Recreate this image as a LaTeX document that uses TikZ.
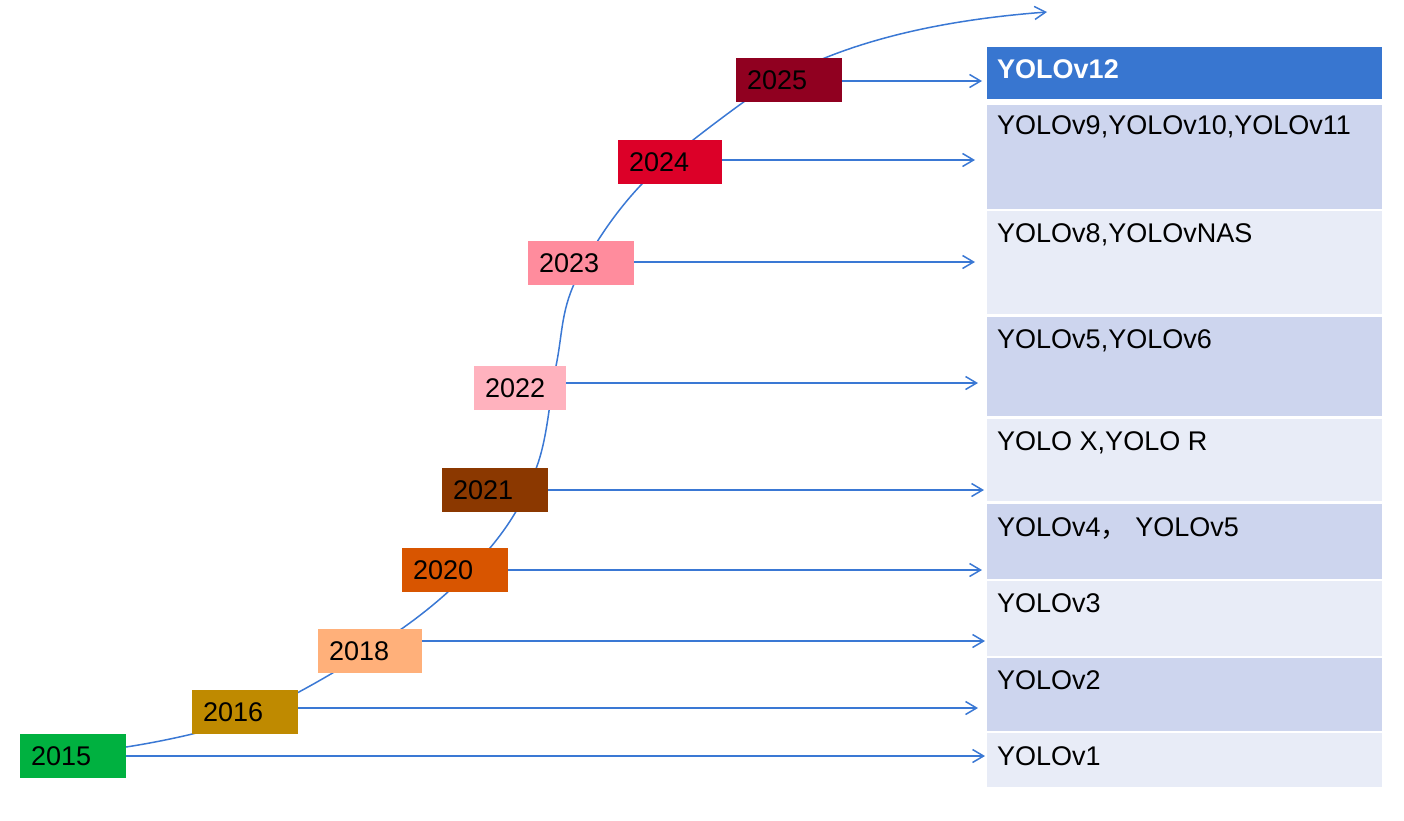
\documentclass[tikz,border=0pt]{standalone}
\usepackage{fontspec}
\setmainfont{Liberation Sans}
\newfontfamily\cjk{Noto Sans CJK SC}
\usetikzlibrary{arrows.meta,calc}
\definecolor{lineblue}{HTML}{3A78D4}
\definecolor{headblue}{HTML}{3876D0}
\definecolor{rowdark}{HTML}{CDD5EE}
\definecolor{rowlight}{HTML}{E8ECF7}
\definecolor{c2015}{HTML}{00B140}
\definecolor{c2016}{HTML}{BF8A00}
\definecolor{c2018}{HTML}{FFB07A}
\definecolor{c2020}{HTML}{D85500}
\definecolor{c2021}{HTML}{8B3800}
\definecolor{c2022}{HTML}{FFB2BE}
\definecolor{c2023}{HTML}{FF8C9D}
\definecolor{c2024}{HTML}{DC0028}
\definecolor{c2025}{HTML}{900020}
\tikzset{
  yearbox/.style={fill=#1, anchor=north west, inner xsep=11pt, inner ysep=0pt,
    text width=84pt, minimum height=44pt, align=left,
    font=\fontsize{27}{32}\selectfont},
  rowbox/.style={fill=#1, anchor=north west, inner sep=0pt, minimum width=395pt},
  rowtext/.style={anchor=base west, inner sep=0pt, font=\fontsize{27}{32}\selectfont},
  conn/.style={draw=lineblue, line width=1.5pt, -{Straight Barb[length=11pt,width=13pt,line width=1.5pt]}},
}
\begin{document}
\begin{tikzpicture}[x=1pt,y=-1pt]
\useasboundingbox (0,0) rectangle (1404,820);
% timeline curve
\coordinate (cend) at (1047,12);
\draw[conn] plot[smooth, tension=0.6] coordinates {(126,747) (250,716) (400,630) (490,548) (537,466) (556,366) (575,282) (640,186) (745,101)}
  .. controls (814,51.5) and (914,22) .. (cend);
% table rows
\node[rowbox=headblue, minimum height=52pt] (r12) at (987,47) {};
\node[rowbox=rowdark, minimum height=104pt] (r9) at (987,105) {};
\node[rowbox=rowlight, minimum height=103pt] (r8) at (987,211) {};
\node[rowbox=rowdark, minimum height=99pt] (r5) at (987,317) {};
\node[rowbox=rowlight, minimum height=82pt] (rx) at (987,419) {};
\node[rowbox=rowdark, minimum height=75pt] (r4) at (987,504) {};
\node[rowbox=rowlight, minimum height=75pt] (r3) at (987,581) {};
\node[rowbox=rowdark, minimum height=73pt] (r2) at (987,658) {};
\node[rowbox=rowlight, minimum height=54pt] (r1) at (987,733) {};
\node[rowtext, text=white, font=\fontsize{27}{32}\selectfont\bfseries] (t12) at ($(r12.north west)+(10,31)$) {YOLOv12};
\node[rowtext] (t9) at ($(r9.north west)+(10,29)$) {YOLOv9,YOLOv10,YOLOv11};
\node[rowtext] (t8) at ($(r8.north west)+(10,31)$) {YOLOv8,YOLOvNAS};
\node[rowtext] (t5) at ($(r5.north west)+(10,31)$) {YOLOv5,YOLOv6};
\node[rowtext] (tx) at ($(rx.north west)+(10,31)$) {YOLO X,YOLO R};
\node[rowtext] (t4) at ($(r4.north west)+(10,32)$) {YOLOv4{\cjk ，}\ YOLOv5};
\node[rowtext] (t3) at ($(r3.north west)+(10,31)$) {YOLOv3};
\node[rowtext] (t2) at ($(r2.north west)+(10,31)$) {YOLOv2};
\node[rowtext] (t1) at ($(r1.north west)+(10,32)$) {YOLOv1};
% year boxes
\node[yearbox=c2015] (y2015) at (20,734) {2015};
\node[yearbox=c2016] (y2016) at (192,690) {2016};
\node[yearbox=c2018, text width=82pt] (y2018) at (318,629) {2018};
\node[yearbox=c2020] (y2020) at (402,548) {2020};
\node[yearbox=c2021] (y2021) at (442,468) {2021};
\node[yearbox=c2022, text width=70pt] (y2022) at (474,366) {2022};
\node[yearbox=c2023] (y2023) at (528,241) {2023};
\node[yearbox=c2024, text width=82pt] (y2024) at (618,140) {2024};
\node[yearbox=c2025] (y2025) at (736,58) {2025};
% arrow targets
\coordinate (e2015) at (985,756);
\coordinate (e2016) at (978,708);
\coordinate (e2018) at (985,641);
\coordinate (e2020) at (982,570);
\coordinate (e2021) at (984,490);
\coordinate (e2022) at (978,383);
\coordinate (e2023) at (975,262);
\coordinate (e2024) at (975,160);
\coordinate (e2025) at (982,81);
\foreach \y in {2015,2016,2018,2020,2021,2022,2023,2024,2025}{
  \draw[conn] (y\y.east |- e\y) -- (e\y);
}
\end{tikzpicture}
\end{document}
